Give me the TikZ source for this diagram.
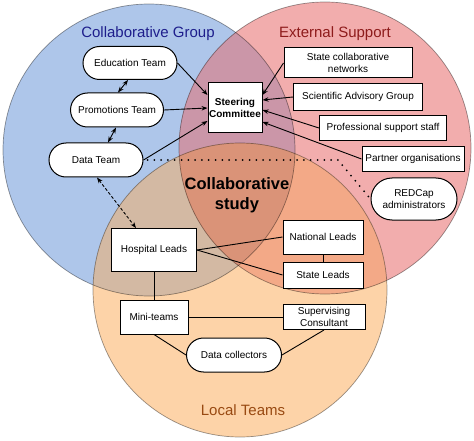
\documentclass[tikz,border=0pt]{standalone}
\usepackage{fontspec}
\setmainfont{Liberation Sans}
\usetikzlibrary{arrows.meta,shapes.misc,calc}
\definecolor{cblue}{HTML}{AEC6EA}
\definecolor{cred}{HTML}{F2ADAD}
\definecolor{corange}{HTML}{FDD3A8}
\definecolor{cbr}{HTML}{CB96A8}
\definecolor{cbo}{HTML}{D3B9A3}
\definecolor{cro}{HTML}{F3A987}
\definecolor{call}{HTML}{DA9378}
\definecolor{tblue}{HTML}{1E1E8C}
\definecolor{tred}{HTML}{8E1B1B}
\definecolor{tbrown}{HTML}{994A12}
\tikzset{
  base/.style={draw=black, line width=1pt, fill=white, inner sep=0pt, align=center,
    font=\fontsize{10}{12}\selectfont},
  pill/.style={base, rounded rectangle},
  box/.style={base, rectangle},
  conn/.style={draw=black, line width=0.9pt},
  arr/.style={conn, -{Stealth[length=6pt,width=4.5pt]}},
  darr/.style={conn, {Stealth[length=6pt,width=4.5pt]}-{Stealth[length=6pt,width=4.5pt]}},
  ring/.style={draw=black, draw opacity=0.4, line width=0.7pt},
  title/.style={font=\fontsize{15}{18}\selectfont},
}
\begin{document}
\begin{tikzpicture}[x=1pt,y=-1pt]
\useasboundingbox (0,0) rectangle (474,441);
% circles
\def\cblue{(149,150) circle[radius=146pt]}
\def\cred{(325,148) circle[radius=146pt]}
\def\corange{(240,290) circle[radius=147pt]}
\fill[cblue] \cblue;
\fill[cred] \cred;
\fill[corange] \corange;
\begin{scope}\clip \cblue; \fill[cbr] \cred; \end{scope}
\begin{scope}\clip \cblue; \fill[cbo] \corange; \end{scope}
\begin{scope}\clip \cred; \fill[cro] \corange; \end{scope}
\begin{scope}\clip \cblue; \clip \cred; \fill[call] \corange; \end{scope}
\draw[ring] \cblue;
\draw[ring] \cred;
\draw[ring] \corange;
% titles
\node[title, text=tblue] (tcg) at (148,34) {Collaborative Group};
\node[title, text=tred] (tes) at (335,34) {External Support};
\node[title, text=tbrown] (tlt) at (243,410) {Local Teams};
\node[font=\fontsize{16.5}{20}\selectfont\bfseries, align=center] (cs) at (237,195) {Collaborative\\study};
% collaborative group nodes
\node[pill, minimum width=94pt, minimum height=33pt] (ed) at (130,63) {Education Team};
\node[pill, minimum width=93pt, minimum height=34pt] (pr) at (117,110) {Promotions Team};
\node[pill, minimum width=94pt, minimum height=34pt] (dt) at (96,160) {Data Team};
\node[box, minimum width=54pt, minimum height=50pt, font=\fontsize{10}{11.5}\selectfont\bfseries] (sc) at (235,108) {Steering\\Committee};
% external support nodes
\node[box, minimum width=128pt, minimum height=30pt] (scn) at (348,63) {State collaborative\\networks};
\node[box, minimum width=129pt, minimum height=27pt] (sag) at (358,97) {Scientific Advisory Group};
\node[box, minimum width=127pt, minimum height=25pt] (pss) at (383,128) {Professional support staff};
\node[box, minimum width=102pt, minimum height=25pt] (po) at (413,159) {Partner organisations};
\node[pill, minimum width=86pt, minimum height=42pt, font=\fontsize{10}{11.5}\selectfont] (rc) at (414,199) {REDCap\\administrators};
% local teams nodes
\node[box, minimum width=85pt, minimum height=43pt] (hl) at (154,250) {Hospital Leads};
\node[box, minimum width=80pt, minimum height=34pt] (nl) at (323,237) {National Leads};
\node[box, minimum width=80pt, minimum height=26pt] (sl) at (323,275) {State Leads};
\node[box, minimum width=68pt, minimum height=34pt] (mt) at (154,317) {Mini-teams};
\node[box, minimum width=82pt, minimum height=25pt] (sup) at (324,317) {Supervising\\Consultant};
\node[pill, minimum width=95pt, minimum height=34pt] (dc) at (234,355) {Data collectors};
% arrows into steering committee
\draw[arr] (ed.east) -- ([yshift=13pt]sc.west);
\draw[arr] (pr.east) -- (sc.west);
\draw[arr] (dt.east) -- ([yshift=-13pt]sc.west);
\draw[arr] (scn.west) -- ([yshift=13pt]sc.east);
\draw[arr] (sag.west) -- ([yshift=8pt]sc.east);
\draw[arr] (pss.west) -- ([yshift=-2pt]sc.east);
\draw[arr] (po.west) -- ([yshift=-14pt]sc.east);
% within collaborative group
\draw[darr] ([xshift=1pt]pr.north) -- ([xshift=-2pt]ed.south);
\draw[darr] ([xshift=12pt]dt.north) -- ([xshift=-1pt]pr.south);
\draw[darr, dashed, dash pattern=on 3pt off 2pt] ([xshift=1pt]dt.south) -- ([xshift=-18pt]hl.north);
% dotted link to REDCap
\coordinate (bend) at (338,160);
\draw[line width=2pt, line cap=round, dash pattern=on 0pt off 6.8pt] ([xshift=4pt]dt.east) -- (bend) -- (rc.west);
% local teams links
\draw[conn] (hl.east) -- (nl.west);
\draw[conn] (hl.east) -- (sl.west);
\draw[conn] (nl.south) -- (sl.north);
\draw[conn] (hl.south) -- (mt.north);
\draw[conn] (mt.east) -- (sup.west);
\draw[conn] (mt.south) -- (dc.west);
\draw[conn] (sup.south) -- (dc.east);
\end{tikzpicture}
\end{document}
